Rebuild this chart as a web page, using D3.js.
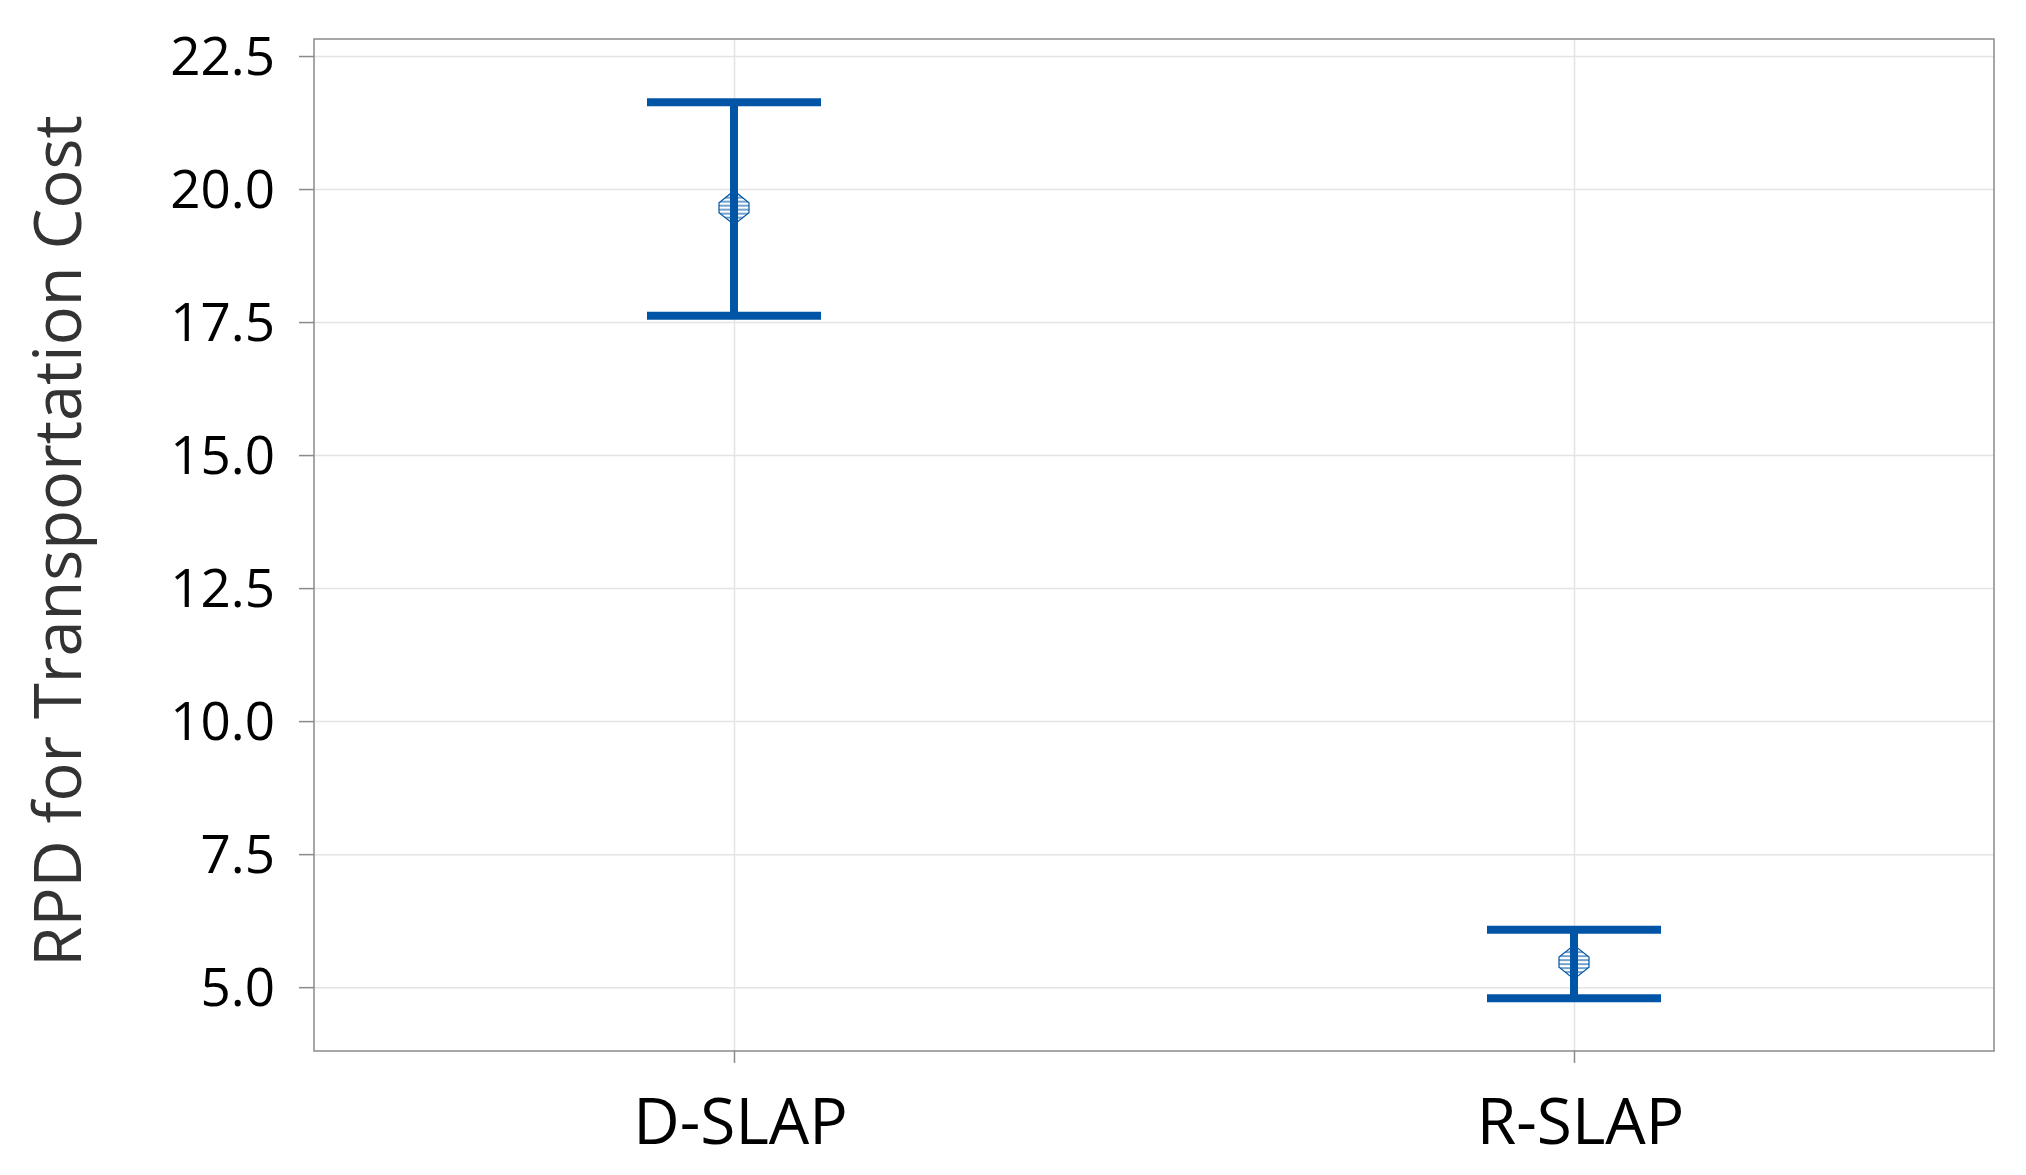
<!DOCTYPE html>
<head>
    <meta charset="utf-8">
    <script src="https://d3js.org/d3.v7.min.js"></script>
    <style>
      body { margin: 0; background: #fff; }
      text { font-family: "Open Sans", "Noto Sans", sans-serif; }
      .ticklabel { font-size: 53px; fill: #000; font-weight: 500; }
      .catlabel { font-size: 64px; fill: #000; font-weight: 500; }
      .axistitle { font-size: 65px; fill: #333; font-weight: 500; }
    </style>
<body>
    <script>
        // values
        var categories = ["D-SLAP", "R-SLAP"]
        var means = [19.65, 5.47]
        var upper = [21.63, 6.08]
        var lower = [17.62, 4.79]
        var yTicks = [5.0, 7.5, 10.0, 12.5, 15.0, 17.5, 20.0, 22.5]

        var svg_w = 2026
        var svg_h = 1175
        var plotL = 314, plotR = 1994, plotT = 39, plotB = 1051
        var blue = "#0055a6"

        var svg = d3.select("body")
          .append("svg")
          .attr("width", svg_w)
          .attr("height", svg_h)

        var data = categories.map(function(c, i){
          return {cat: c, mean: means[i], hi: upper[i], lo: lower[i]}
        })

        var x = d3.scalePoint()
          .domain(categories)
          .range([plotL, plotR])
          .padding(0.5)

        var y = d3.scaleLinear()
          .domain([3.80, 22.82])
          .range([plotB, plotT])

        // hatch pattern for the mean symbol
        var defs = svg.append("defs")
        var pat = defs.append("pattern")
          .attr("id", "hatch")
          .attr("patternUnits", "userSpaceOnUse")
          .attr("width", 8)
          .attr("height", 4)
        pat.append("rect").attr("width", 8).attr("height", 4).attr("fill", "#fff")
        pat.append("line")
          .attr("x1", 0).attr("x2", 8)
          .attr("y1", 2).attr("y2", 2)
          .attr("stroke", blue)
          .attr("stroke-width", 1.1)

        // gridlines
        var hGrid = svg.append("g")
          .attr("transform", "translate(" + plotL + ",0)")
          .call(d3.axisLeft(y).tickValues(yTicks).tickFormat("").tickSize(-(plotR - plotL)))
        hGrid.select(".domain").remove()
        hGrid.selectAll("line").attr("stroke", "#e4e4e4").attr("stroke-width", 1.5)

        var vGrid = svg.append("g")
          .attr("transform", "translate(0," + plotB + ")")
          .call(d3.axisBottom(x).tickFormat("").tickSize(-(plotB - plotT)))
        vGrid.select(".domain").remove()
        vGrid.selectAll("line").attr("stroke", "#e4e4e4").attr("stroke-width", 1.5)

        // frame
        svg.append("rect")
          .attr("x", plotL)
          .attr("y", plotT)
          .attr("width", plotR - plotL)
          .attr("height", plotB - plotT)
          .attr("fill", "none")
          .attr("stroke", "#8a8a8a")
          .attr("stroke-width", 1.5)

        // axes
        var yAxis = svg.append("g")
          .attr("transform", "translate(" + plotL + ",0)")
          .call(d3.axisLeft(y).tickValues(yTicks).tickFormat(d3.format(".1f")).tickSize(15).tickPadding(24))
        yAxis.select(".domain").remove()
        yAxis.selectAll("line").attr("stroke", "#8a8a8a").attr("stroke-width", 1.5)
        yAxis.selectAll("text")
          .attr("class", "ticklabel")
          .attr("font-family", null)
          .attr("font-size", null)
          .attr("fill", null)
          .attr("dy", "0.35em")

        var xAxis = svg.append("g")
          .attr("transform", "translate(0," + plotB + ")")
          .call(d3.axisBottom(x).tickSize(12).tickPadding(36))
        xAxis.select(".domain").remove()
        xAxis.selectAll("line").attr("stroke", "#8a8a8a").attr("stroke-width", 1.5)
        xAxis.selectAll("text")
          .attr("class", "catlabel")
          .attr("font-family", null)
          .attr("font-size", null)
          .attr("fill", null)
          .attr("dx", 6)
          .attr("dy", "0.71em")

        // axis title
        svg.append("text")
          .attr("class", "axistitle")
          .attr("transform", "translate(81," + 541 + ") rotate(-90)")
          .attr("text-anchor", "middle")
          .text("RPD for Transportation Cost")

        // interval bars
        var capHalf = 87
        var bars = svg.selectAll(".interval")
          .data(data)
          .enter()
          .append("g")
          .classed("interval", true)

        bars.append("line")
          .attr("x1", function(d){ return x(d.cat) })
          .attr("x2", function(d){ return x(d.cat) })
          .attr("y1", function(d){ return y(d.hi) })
          .attr("y2", function(d){ return y(d.lo) })
          .attr("stroke", blue)
          .attr("stroke-width", 8)

        bars.selectAll(".cap")
          .data(function(d){ return [{cat: d.cat, v: d.hi}, {cat: d.cat, v: d.lo}] })
          .enter()
          .append("line")
          .classed("cap", true)
          .attr("x1", function(d){ return x(d.cat) - capHalf })
          .attr("x2", function(d){ return x(d.cat) + capHalf })
          .attr("y1", function(d){ return y(d.v) })
          .attr("y2", function(d){ return y(d.v) })
          .attr("stroke", blue)
          .attr("stroke-width", 8)

        // mean symbol: octagon with horizontal hatching
        var oct = [[-3,-14.5],[3,-14.5],[15,-5],[15,5],[3,14.5],[-3,14.5],[-15,5],[-15,-5]]
        bars.append("polygon")
          .attr("points", oct.map(function(p){ return p.join(",") }).join(" "))
          .attr("transform", function(d){ return "translate(" + x(d.cat) + "," + y(d.mean) + ")" })
          .attr("fill", "url(#hatch)")
          .attr("stroke", blue)
          .attr("stroke-width", 1.2)
        // stem drawn over the symbol
        bars.append("line")
          .attr("x1", function(d){ return x(d.cat) })
          .attr("x2", function(d){ return x(d.cat) })
          .attr("y1", function(d){ return y(d.mean) - 14.5 })
          .attr("y2", function(d){ return y(d.mean) + 14.5 })
          .attr("stroke", blue)
          .attr("stroke-width", 8)
    </script>
</body>
